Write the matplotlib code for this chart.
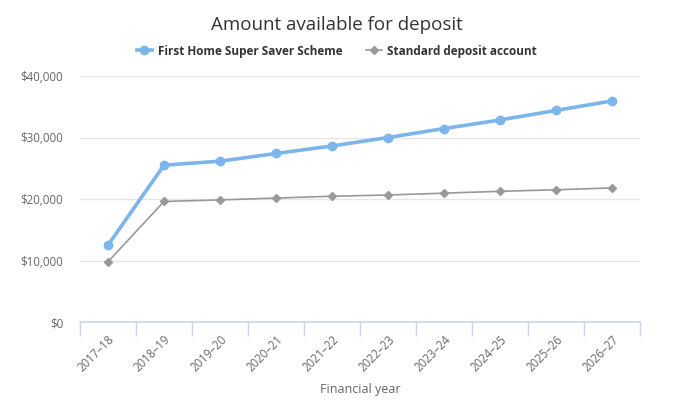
import matplotlib
matplotlib.use("Agg")
import matplotlib.pyplot as plt
from matplotlib.ticker import FuncFormatter, FixedLocator

plt.rcParams["font.family"] = ["Open Sans", "DejaVu Sans"]

years = ["2017–18", "2018–19", "2019–20", "2020–21", "2021–22",
         "2022–23", "2023–24", "2024–25", "2025–26", "2026–27"]
fhsss = [12500, 25500, 26150, 27400, 28620, 30000, 31450, 32850, 34400, 35950]
standard = [9800, 19600, 19850, 20150, 20450, 20650, 20950, 21250, 21500, 21800]

W, H = 674, 416
fig = plt.figure(figsize=(W / 100, H / 100), dpi=100)
ax = fig.add_axes([80 / W, 1 - 322 / H, 560 / W, 246 / H])

x = list(range(len(years)))
ax.plot(x, fhsss, color="#7cb5ec", lw=2.6, marker="o", ms=6, zorder=4,
        label="First Home Super Saver Scheme")
ax.plot(x, standard, color="#999999", lw=1.2, marker="D", ms=4, zorder=3,
        markeredgecolor="#999999", markerfacecolor="#999999",
        label="Standard deposit account")

ax.set_xlim(-0.5, len(years) - 0.5)
ax.set_ylim(0, 40000)
ax.set_yticks([0, 10000, 20000, 30000, 40000])
ax.yaxis.set_major_formatter(FuncFormatter(lambda v, p: f"${v:,.0f}"))
ax.grid(axis="y", color="#e6e6e6", lw=1)
ax.set_axisbelow(True)

for s in ["top", "right", "left"]:
    ax.spines[s].set_visible(False)
ax.spines["bottom"].set_color("#ccd6eb")
ax.spines["bottom"].set_linewidth(1.2)

ax.tick_params(axis="y", length=0, labelsize=8.3, labelcolor="#666666", pad=12)
ax.xaxis.set_major_locator(FixedLocator([i - 0.5 for i in range(len(years) + 1)]))
ax.xaxis.set_major_formatter(FuncFormatter(lambda v, p: ""))
ax.xaxis.set_minor_locator(FixedLocator(x))
ax.set_xticklabels(years, minor=True, rotation=45, ha="right",
                   rotation_mode="anchor", fontsize=8.3, color="#666666")
ax.tick_params(axis="x", which="major", length=10, color="#ccd6eb", width=1)
ax.tick_params(axis="x", which="minor", length=0, pad=8)

ax.set_xlabel("Financial year", fontsize=9, color="#666666", labelpad=6)

fig.text(0.5, 1 - 25 / H, "Amount available for deposit", ha="center",
         va="center", fontsize=13.5, color="#333333")
leg = fig.legend(loc="center", bbox_to_anchor=(0.5, 1 - 51 / H), ncol=2,
                 frameon=False, prop={"weight": "bold", "size": 8.5},
                 handlelength=1.3, columnspacing=2.0, handletextpad=0.5)
for t in leg.get_texts():
    t.set_color("#333333")

fig.savefig("out.png", dpi=100)
